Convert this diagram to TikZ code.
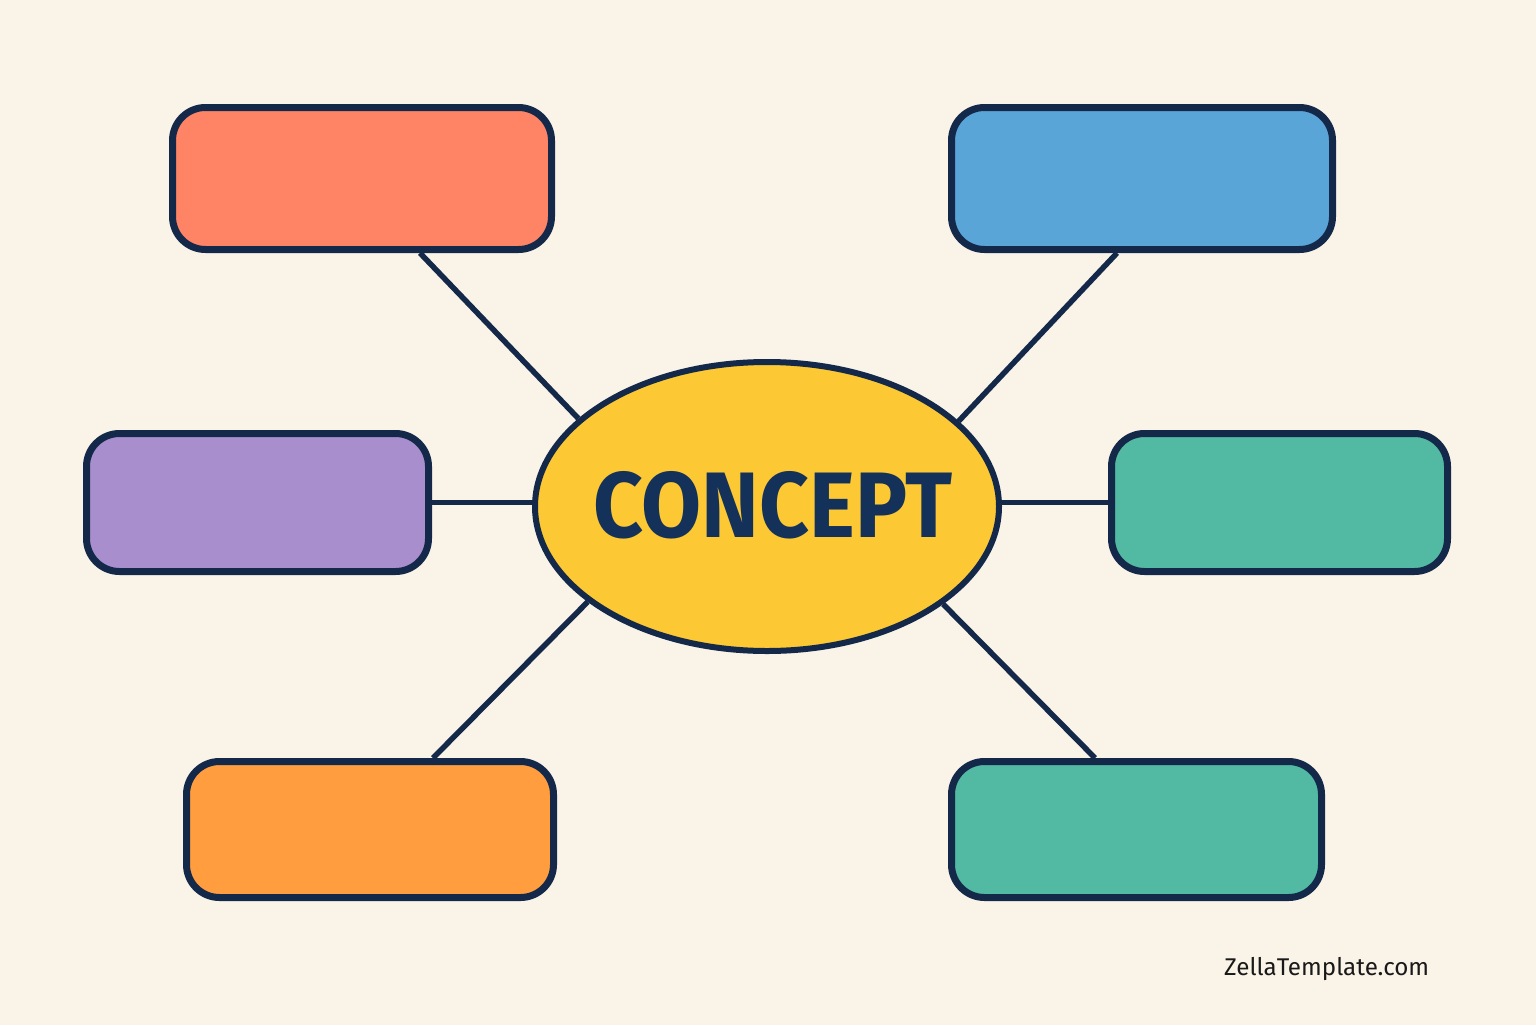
\documentclass[tikz,border=0pt]{standalone}
\usepackage{fontspec}
\usepackage{graphicx}
\usetikzlibrary{shapes.geometric}
\setmainfont{Fira Sans}
\definecolor{bg}{HTML}{FAF3E8}
\definecolor{navy}{HTML}{14294A}
\definecolor{navytext}{HTML}{14315A}
\definecolor{salmon}{HTML}{FF8466}
\definecolor{skyblue}{HTML}{59A5D8}
\definecolor{lilac}{HTML}{A98ECE}
\definecolor{teal}{HTML}{52B9A2}
\definecolor{tangerine}{HTML}{FF9D3F}
\definecolor{sun}{HTML}{FCC834}
\begin{document}
\begin{tikzpicture}[x=1pt,y=-1pt,
  box/.style={draw=navy, line width=7pt, rounded corners=33pt, inner sep=0pt},
  link/.style={draw=navy, line width=5.5pt},
  hub/.style={ellipse, draw=navy, line width=6pt, fill=sun, inner sep=0pt}]
\fill[bg] (0,0) rectangle (1536,1025);
\useasboundingbox (0,0) rectangle (1536,1025);
% boxes
\node[box, fill=salmon, minimum width=379pt, minimum height=142pt] (tl) at (362,178.5) {};
\node[box, fill=skyblue, minimum width=381pt, minimum height=142pt] (tr) at (1142,178.5) {};
\node[box, fill=lilac, minimum width=342pt, minimum height=138pt] (ml) at (257.5,502.5) {};
\node[box, fill=teal, minimum width=336pt, minimum height=138pt] (mr) at (1279.5,502.5) {};
\node[box, fill=tangerine, minimum width=367pt, minimum height=136pt] (bl) at (370,829.5) {};
\node[box, fill=teal, minimum width=370pt, minimum height=136pt] (br) at (1136.5,829.5) {};
% hub
\node[hub, minimum width=464pt, minimum height=289pt] (concept) at (767,506.5) {};
\node[inner sep=0pt, text=navytext] (conceptlabel) at (772.5,505.5)
  {\resizebox{359pt}{66pt}{\bfseries CONCEPT}};
% connectors
\draw[link] ([xshift=58pt]tl.south) -- (concept.155);
\draw[link] ([xshift=-25pt]tr.south) -- (concept.24);
\draw[link] ([xshift=63pt]bl.north) -- (concept.208);
\draw[link] ([xshift=-41.5pt]br.north) -- (concept.331);
\draw[link] (ml.east) -- (ml.east -| concept.west);
\draw[link] (mr.west) -- (mr.west -| concept.east);
% watermark
\node[anchor=base west, inner sep=0pt, text=black!90] (mark) at (1224,975)
  {\resizebox{205pt}{!}{\fontsize{25pt}{30pt}\selectfont ZellaTemplate.com}};
\end{tikzpicture}
\end{document}
